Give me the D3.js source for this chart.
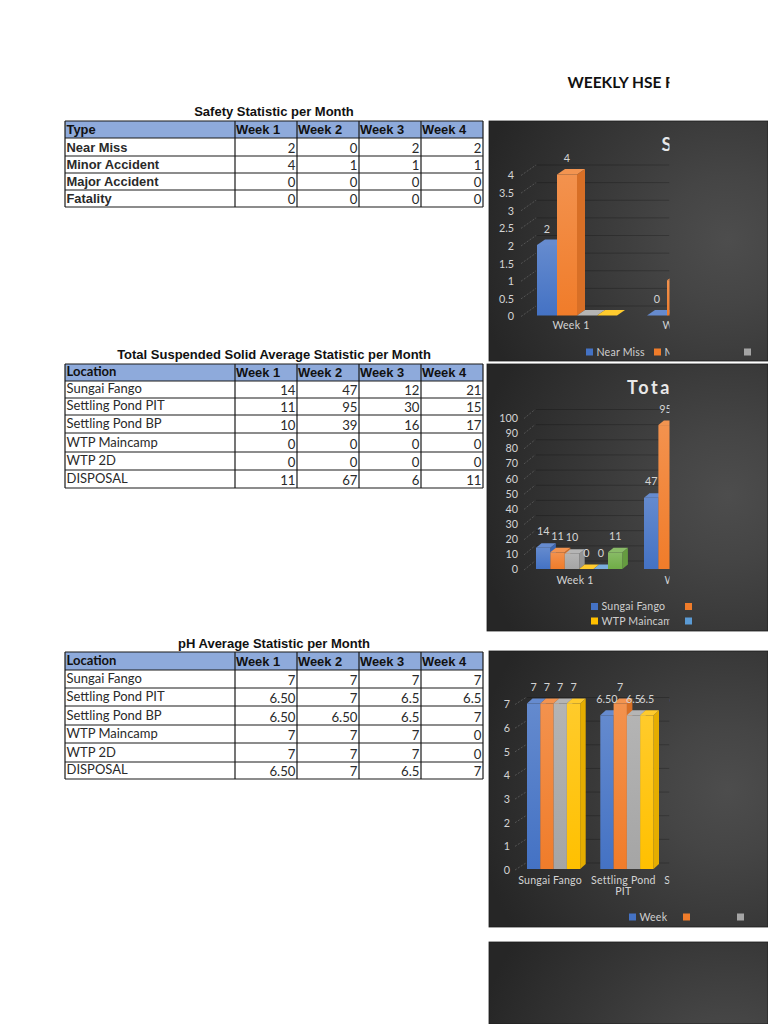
<!DOCTYPE html>
<html>
<head>
<meta charset="utf-8">
<style>
html,body{margin:0;padding:0;background:#fff}
svg{display:block}
</style>
<script src="https://cdn.jsdelivr.net/npm/d3@7/dist/d3.min.js"></script>
</head>
<body>
<svg id="sheet" width="768" height="1024"></svg>
<script>
const weeks = ["Week 1","Week 2","Week 3","Week 4"];

// Safety table
const safetyTypes = ["Near Miss","Minor Accident","Major Accident","Fatality"];
const safetyWeek1 = [2,4,0,0];
const safetyWeek2 = [0,1,0,0];
const safetyWeek3 = [2,1,0,0];
const safetyWeek4 = [2,1,0,0];

// Total suspended solids table
const locations = ["Sungai Fango","Settling Pond PIT","Settling Pond BP","WTP Maincamp","WTP 2D","DISPOSAL"];
const tssWeek1 = [14,11,10,0,0,11];
const tssWeek2 = [47,95,39,0,0,67];
const tssWeek3 = [12,30,16,0,0,6];
const tssWeek4 = [21,15,17,0,0,11];

// pH table, kept as the strings printed in the cells
const phWeek1 = ["7","6.50","6.50","7","7","6.50"];
const phWeek2 = ["7","7","6.50","7","7","7"];
const phWeek3 = ["7","6.5","6.5","7","7","6.5"];
const phWeek4 = ["7","6.5","7","0","0","7"];

const safetyTicks = [0,0.5,1,1.5,2,2.5,3,3.5,4];
const tssTicks = [0,10,20,30,40,50,60,70,80,90,100];
const phTicks = [0,1,2,3,4,5,6,7];

const palette = ["#4472c4","#f07c2a","#a5a5a5","#ffc000","#5b9bd5","#70ad47"];

const svg = d3.select("#sheet");
const defs = svg.append("defs");
const SANS = "'Liberation Sans',Arial,sans-serif";
const LATO = "Lato,'Noto Sans',sans-serif";

// Page heading
const CUT = 669.5;
defs.append("clipPath").attr("id","cut").append("rect")
  .attr("x",0).attr("y",0).attr("width",CUT).attr("height",1024);

svg.append("g").attr("clip-path","url(#cut)").append("text")
  .attr("x",567.5).attr("y",87.5).attr("font-family",LATO)
  .attr("font-weight",700).attr("font-size",15.5).attr("fill","#111")
  .text("WEEKLY HSE REPORT");

// Spreadsheet-style table
const colEdges = [65,235,297,359,421,483];
function drawTable(opts){
  const g = svg.append("g");
  g.append("text").attr("x",opts.titleX).attr("y",opts.titleY).attr("text-anchor","middle")
    .attr("font-family",SANS).attr("font-weight",700).attr("font-size",13).attr("fill","#111")
    .text(opts.title);
  const rows = opts.rowEdges;
  g.append("rect").attr("x",colEdges[0]).attr("y",rows[0])
    .attr("width",colEdges[5]-colEdges[0]).attr("height",rows[1]-rows[0]).attr("fill","#8eaadb");
  const lines = g.append("g").attr("stroke","#1a1a1a").attr("stroke-width",1.2);
  rows.forEach(y=>lines.append("line").attr("x1",colEdges[0]).attr("x2",colEdges[5]).attr("y1",y).attr("y2",y));
  colEdges.forEach(x=>lines.append("line").attr("x1",x).attr("x2",x).attr("y1",rows[0]).attr("y2",rows[rows.length-1]));

  g.append("text").attr("x",colEdges[0]+1.5).attr("y",rows[1]-opts.headBase)
    .attr("font-family",opts.firstHeadFont).attr("font-weight",700).attr("font-size",opts.firstHeadSize).attr("fill","#111")
    .text(opts.head);
  weeks.forEach((w,i)=>g.append("text").attr("x",colEdges[i+1]+1).attr("y",rows[1]-4.3)
    .attr("font-family",SANS).attr("font-weight",700).attr("font-size",12.9).attr("fill","#111").text(w));

  opts.names.forEach((name,r)=>{
    g.append("text").attr("x",colEdges[0]+1.5).attr("y",rows[r+2]-opts.nameBase)
      .attr("font-family",opts.nameFont).attr("font-weight",opts.nameWeight).attr("font-size",opts.nameSize)
      .attr("fill","#2a2a2a").text(name);
    opts.columns.forEach((col,c)=>{
      g.append("text").attr("x",colEdges[c+2]-1.5).attr("y",rows[r+2]-opts.numBase)
        .attr("text-anchor","end").attr("font-family",LATO).attr("font-size",13.2).attr("fill","#2a2a2a")
        .text(col[r]);
    });
  });
}

drawTable({title:"Safety Statistic per Month",titleX:274,titleY:116,
  head:"Type",firstHeadFont:SANS,firstHeadSize:12.9,headBase:4.5,
  rowEdges:[121,138,156,173,190,207],names:safetyTypes,
  nameFont:SANS,nameWeight:700,nameSize:12.9,nameBase:4.3,numBase:3,
  columns:[safetyWeek1,safetyWeek2,safetyWeek3,safetyWeek4]});
drawTable({title:"Total Suspended Solid Average Statistic per Month",titleX:274,titleY:359,
  head:"Location",firstHeadFont:LATO,firstHeadSize:13,headBase:5,
  rowEdges:[364,381,398,415,433,452,470,488],names:locations,
  nameFont:LATO,nameWeight:400,nameSize:13,nameBase:5.5,numBase:3.5,
  columns:[tssWeek1,tssWeek2,tssWeek3,tssWeek4]});
drawTable({title:"pH Average Statistic per Month",titleX:274,titleY:648,
  head:"Location",firstHeadFont:LATO,firstHeadSize:13,headBase:5,
  rowEdges:[652,670,688,706,725,743,762,779],names:locations,
  nameFont:LATO,nameWeight:400,nameSize:13,nameBase:5.5,numBase:3.5,
  columns:[phWeek1,phWeek2,phWeek3,phWeek4]});

// Dark chart panels with a soft off-centre glow
function panel(id,x,y,w,h,cx,cy){
  const grad = defs.append("radialGradient").attr("id",id).attr("gradientUnits","userSpaceOnUse")
    .attr("cx",cx).attr("cy",cy).attr("r",255);
  grad.append("stop").attr("offset","0%").attr("stop-color","#4d4d4d");
  grad.append("stop").attr("offset","25%").attr("stop-color","#454545");
  grad.append("stop").attr("offset","60%").attr("stop-color","#363636");
  grad.append("stop").attr("offset","100%").attr("stop-color","#262626");
  svg.append("rect").attr("x",x).attr("y",y).attr("width",w).attr("height",h)
    .attr("fill",`url(#${id})`).attr("stroke","#1d1d1d").attr("stroke-width",0.8);
}
panel("glowA",489,121,279,240,728,240);
panel("glowB",487,364,281,267,728,495);
panel("glowC",489,651,279,276,728,790);
panel("glowD",489,942,279,82,728,1080);

// Vertical gradients shared by the bars
palette.forEach((c,i)=>{
  const g = defs.append("linearGradient").attr("id","bar"+i).attr("x1",0).attr("x2",0).attr("y1",0).attr("y2",1);
  g.append("stop").attr("offset","0%").attr("stop-color",d3.interpolateRgb(c,"#fff")(0.17));
  g.append("stop").attr("offset","100%").attr("stop-color",c);
});

// Column chart with extruded bars, drawn up to the cut-off edge
function barChart(o){
  const plot = svg.append("g").attr("clip-path","url(#cut)");
  const y = d3.scaleLinear().domain(o.domain).range([o.base,o.top]);
  const x = d3.scaleBand().domain(o.categories).range([o.x0,o.x0+o.step*o.categories.length]);
  const x1 = d3.scaleBand().domain(d3.range(o.series.length)).range([0,o.barW*o.series.length]);

  // back wall gridlines and dashed floor ticks
  const wall = plot.append("g");
  o.ticks.forEach(t=>{
    wall.append("line").attr("x1",o.x0).attr("x2",CUT)
      .attr("y1",y(t)+o.wallDy).attr("y2",y(t)+o.wallDy).attr("stroke","#000").attr("stroke-opacity",0.22).attr("stroke-width",1);
    wall.append("line").attr("x1",o.x0-o.wallDx).attr("x2",o.x0-1)
      .attr("y1",y(t)+1).attr("y2",y(t)+o.wallDy).attr("stroke","#6e6e6e").attr("stroke-width",0.6).attr("stroke-dasharray","2 1.5");
  });

  const axisY = d3.axisLeft(y).tickValues(o.ticks).tickSize(0).tickPadding(0).tickFormat(d3.format("~g"));
  const ay = plot.append("g").attr("transform",`translate(${o.axisX},${o.axisDy})`).call(axisY);
  ay.select(".domain").remove();
  ay.selectAll("text").attr("font-family",LATO).attr("font-size",10.8).attr("fill","#d4d4d4");

  const axisX = d3.axisBottom(x).tickSize(0);
  const ax = plot.append("g").attr("transform",`translate(${o.labelShift},${o.base+o.catGap})`).call(axisX);
  ax.select(".domain").remove();
  ax.selectAll("text").attr("font-family",LATO).attr("font-size",10.6).attr("fill","#d4d4d4")
    .attr("letter-spacing",0.2)
    .each(function(d){
      const t = d3.select(this), parts = (o.wrap && o.wrap[d]) || [d];
      t.text(null);
      parts.forEach((p,i)=>t.append("tspan").attr("x",0).attr("dy",i?"1.1em":"0.71em").text(p));
    });

  o.series.forEach((vals,s)=>{
    const g = plot.append("g");
    vals.forEach((raw,c)=>{
      const v = +raw, L = x(o.categories[c])+x1(s), R = L+x1.bandwidth(), T = y(v), B = y(0);
      const col = palette[s];
      g.append("polygon").attr("fill",d3.color(col).darker(0.3))
        .attr("points",[[R,T],[R+o.dx,T+o.dy],[R+o.dx,B+o.dy],[R,B]].join(" "));
      g.append("polygon").attr("fill",d3.interpolateRgb(col,"#fff")(0.18))
        .attr("points",[[L,T],[L+o.dx,T+o.dy],[R+o.dx,T+o.dy],[R,T]].join(" "));
      g.append("rect").attr("x",L).attr("y",T).attr("width",R-L).attr("height",Math.max(0,B-T))
        .attr("fill",`url(#bar${s})`);
    });
  });
  // value labels go above every bar so neighbours cannot hide them
  o.series.forEach((vals,s)=>{
    if(o.labelled && !o.labelled[s]) return;
    vals.forEach((raw,c)=>{
      plot.append("text").attr("x",x(o.categories[c])+x1(s)+x1.bandwidth()/2)
        .attr("y",y(+raw)-12.5).attr("text-anchor","middle").attr("font-family",LATO)
        .attr("font-size",10.8).attr("fill","#d4d4d4").text(raw);
    });
  });
}

barChart({categories:weeks,series:[
    [safetyWeek1[0],safetyWeek2[0],safetyWeek3[0],safetyWeek4[0]],
    [safetyWeek1[1],safetyWeek2[1],safetyWeek3[1],safetyWeek4[1]],
    [safetyWeek1[2],safetyWeek2[2],safetyWeek3[2],safetyWeek4[2]],
    [safetyWeek1[3],safetyWeek2[3],safetyWeek3[3],safetyWeek4[3]]],
  labelled:[true,true,false,false],domain:[0,4],ticks:safetyTicks,base:315.5,top:174.5,
  x0:537,step:110,barW:20,dx:8,dy:-5.5,wallDx:16,wallDy:-9.5,axisX:514,axisDy:1,labelShift:-21,catGap:3});

barChart({categories:weeks,series:[
    [tssWeek1[0],tssWeek2[0],tssWeek3[0],tssWeek4[0]],
    [tssWeek1[1],tssWeek2[1],tssWeek3[1],tssWeek4[1]],
    [tssWeek1[2],tssWeek2[2],tssWeek3[2],tssWeek4[2]],
    [tssWeek1[3],tssWeek2[3],tssWeek3[3],tssWeek4[3]],
    [tssWeek1[4],tssWeek2[4],tssWeek3[4],tssWeek4[4]],
    [tssWeek1[5],tssWeek2[5],tssWeek3[5],tssWeek4[5]]],
  domain:[0,100],ticks:tssTicks,base:569,top:417.5,
  x0:536,step:108,barW:14.4,dx:5.5,dy:-4.5,wallDx:12,wallDy:-8,axisX:518,axisDy:0.5,labelShift:-15,catGap:4});

barChart({categories:locations,series:[phWeek1,phWeek2,phWeek3,phWeek4],
  wrap:{"Settling Pond PIT":["Settling Pond","PIT"],"Settling Pond BP":["Settling Pond","BP"]},
  domain:[0,7],ticks:phTicks,base:869,top:703.5,
  x0:527,step:73.3,barW:13.3,dx:5.5,dy:-5,wallDx:12,wallDy:-6,axisX:510,axisDy:1,labelShift:-13.6,catGap:4});

// Chart headings, cut at the same edge as the plots
const heads = svg.append("g").attr("clip-path","url(#cut)");
heads.append("text").attr("x",661.5).attr("y",151).attr("font-family",LATO).attr("font-weight",700)
  .attr("font-size",18.5).attr("letter-spacing",1).attr("fill","#e8e8e8").text("Safety Statistic per Month");
heads.append("text").attr("x",627).attr("y",394).attr("font-family",LATO).attr("font-weight",700)
  .attr("font-size",18).attr("letter-spacing",2.6).attr("fill","#e8e8e8").text("Total Suspended Solid Average Statistic per Month");

// Legends: swatches run across the panel, labels stop at the cut-off edge
function legend(items){
  items.forEach(it=>{
    svg.append("rect").attr("x",it.x).attr("y",it.y-3.5).attr("width",7).attr("height",7).attr("fill",palette[it.s]);
    if(it.label){
      svg.append("g").attr("clip-path","url(#cut)").append("text").attr("x",it.x+10.5).attr("y",it.y+3.5)
        .attr("font-family",LATO).attr("font-size",10.6).attr("letter-spacing",0.2).attr("fill","#cfcfcf").text(it.label);
    }
  });
}
legend([{s:0,x:586,y:352,label:safetyTypes[0]},{s:1,x:654,y:352,label:safetyTypes[1]},{s:2,x:744,y:352}]);
legend([{s:0,x:591,y:606.5,label:locations[0]},{s:1,x:685,y:606.5},{s:3,x:591,y:621,label:locations[3]},{s:4,x:685,y:621}]);
legend([{s:0,x:629,y:917,label:weeks[0]},{s:1,x:683,y:917},{s:2,x:737,y:917}]);
</script>
</body>
</html>
